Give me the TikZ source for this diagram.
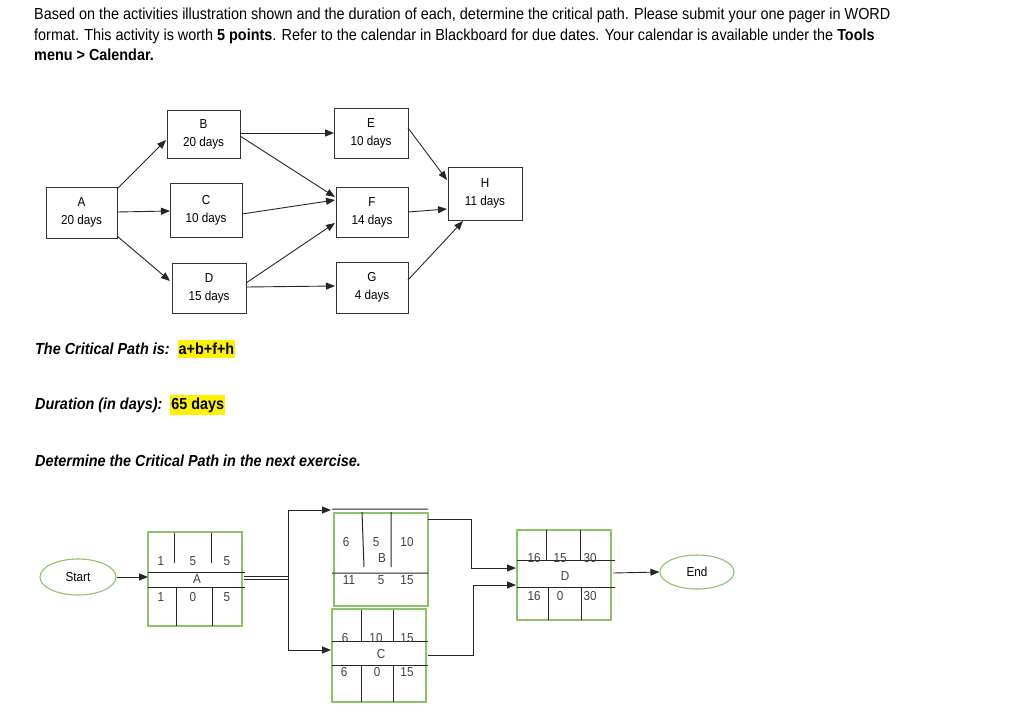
\documentclass[tikz,border=0pt]{standalone}
\usepackage{fontspec}
\setmainfont{Liberation Sans}[FakeStretch=0.9]
\usetikzlibrary{arrows.meta,shapes.geometric}
\definecolor{gr}{HTML}{8CC46A}
\begin{document}
\begin{tikzpicture}[x=1pt,y=-1pt,
  box/.style={draw=black!80,line width=0.9pt,align=center,font=\fontsize{13}{15}\selectfont,inner sep=0pt},
  arr/.style={-{Triangle[length=9pt,width=7pt]},line width=0.9pt,black!85},
  ln/.style={line width=1pt,black!85},
  gb/.style={draw=gr,line width=1.1pt},
  num/.style={font=\fontsize{13}{15}\selectfont,text=black!75,inner sep=0pt}]
\useasboundingbox (0,0) rectangle (1024,718);
\node[anchor=north west,align=left,inner sep=0pt,font=\fontsize{16}{20.5}\selectfont] (txt) at (34,8)
{Based on the activities illustration shown and the duration of each, determine the critical path. Please submit your one pager in WORD\\
format. This activity is worth \textbf{5 points}. Refer to the calendar in Blackboard for due dates. Your calendar is available under the \textbf{Tools}\\
\textbf{menu > Calendar.}};
% top network
\node[box,minimum width=71,minimum height=51] (A) at (81.5,212.5) {A\\[3pt]20 days};
\node[box,minimum width=73,minimum height=48] (B) at (203.5,134) {B\\[3pt]20 days};
\node[box,minimum width=72,minimum height=54] (C) at (206,210) {C\\[3pt]10 days};
\node[box,minimum width=74,minimum height=50] (D) at (209,288) {D\\[3pt]15 days};
\node[box,minimum width=74,minimum height=50] (E) at (371,133) {E\\[3pt]10 days};
\node[box,minimum width=72,minimum height=50] (F) at (372,212) {F\\[3pt]14 days};
\node[box,minimum width=72,minimum height=51] (G) at (372,287.5) {G\\[3pt]4 days};
\node[box,minimum width=74,minimum height=53] (H) at (485,193.5) {H\\[3pt]11 days};
\draw[arr] (117,189) -- (166,140);
\draw[arr] (117,212) -- (170,211);
\draw[arr] (117,236) -- (170,281);
\draw[arr] (240,133) -- (334,133);
\draw[arr] (240,136) -- (335,197);
\draw[arr] (242,214) -- (335,200);
\draw[arr] (246,283) -- (335,223);
\draw[arr] (246,287) -- (335,286);
\draw[arr] (408,128) -- (447,180);
\draw[arr] (408,212) -- (447,209);
\draw[arr] (408,280) -- (463,221);
\node[anchor=west,inner sep=0pt,font=\fontsize{16}{18}\selectfont\bfseries\itshape] (cp) at (35,349) {The Critical Path is: \,\textup{\colorbox{yellow}{\hspace{-2pt}a+b+f+h\hspace{-2pt}}}};
\node[anchor=west,inner sep=0pt,font=\fontsize{16}{18}\selectfont\bfseries\itshape] (du) at (35,405) {Duration (in days): \,\textup{\colorbox{yellow}{\hspace{-2pt}65 days\hspace{-2pt}}}};
\node[anchor=west,inner sep=0pt,font=\fontsize{16}{18}\selectfont\bfseries\itshape] (de) at (35,461) {Determine the Critical Path in the next exercise.};
% bottom network
\node[gb,ellipse,minimum width=76,minimum height=36,font=\fontsize{13}{15}\selectfont] (S) at (78,577) {Start};
\node[gb,ellipse,minimum width=74,minimum height=34,font=\fontsize{13}{15}\selectfont] (En) at (697,572) {End};
% A
\draw[gb] (148,532) rectangle (242,626);
\coordinate (Ain) at (148,577);
\draw[arr] (S.east) -- (Ain);
\draw[ln] (148,572)--(245,572) (148,587)--(245,587) (174,533)--(174,563) (211,533)--(211,563) (176,587)--(176,626) (212,587)--(212,626);
\node[num] (a1) at (161,561) {1}; \node[num] (a2) at (193,561) {5}; \node[num] (a3) at (227,561) {5};
\node[num] (an) at (197,579) {A};
\node[num] (a4) at (161,597) {1}; \node[num] (a5) at (193,597) {0}; \node[num] (a6) at (227,597) {5};
% B
\draw[gb] (334,513) rectangle (428,606);
\draw[ln] (332,509)--(428,509) (332,573)--(428,573) (362,512)--(364,567) (391,512)--(391,567);
\node[num] (b1) at (346,542) {6}; \node[num] (b2) at (376,542) {5}; \node[num] (b3) at (407,542) {10};
\node[num] (bn) at (382,558) {B};
\node[num] (b4) at (349,580) {11}; \node[num] (b5) at (381,580) {5}; \node[num] (b6) at (407,580) {15};
% C
\draw[gb] (332,609) rectangle (426,702);
\draw[ln] (332,641)--(428,641) (332,665)--(428,665) (361,610)--(361,642) (393,610)--(393,642) (361,665)--(361,702) (393,665)--(393,702);
\node[num] (c1) at (345,638) {6}; \node[num] (c2) at (376,638) {10}; \node[num] (c3) at (407,638) {15};
\node[num] (cn) at (381,654) {C};
\node[num] (c4) at (344,672) {6}; \node[num] (c5) at (377,672) {0}; \node[num] (c6) at (407,672) {15};
% D
\draw[gb] (517,530) rectangle (611,620);
\draw[ln] (517,560)--(615,560) (517,587)--(615,587) (546,530)--(546,560) (580,530)--(580,560) (548,587)--(548,620) (581,587)--(581,620);
\node[num] (d1) at (534,558) {16}; \node[num] (d2) at (560,558) {15}; \node[num] (d3) at (590,558) {30};
\node[num] (dn) at (565,576) {D};
\node[num] (d4) at (534,596) {16}; \node[num] (d5) at (560,596) {0}; \node[num] (d6) at (590,596) {30};
% connectors
\coordinate (Aout) at (244,578);
\coordinate (J) at (288,578);
\coordinate (Bin) at (331,510);
\coordinate (Cin) at (331,650);
\draw[line width=0.8pt,black!85,double=white,double distance=2pt] (Aout) -- (J);
\draw[arr] (J) |- (Bin);
\draw[arr] (J) |- (Cin);
\coordinate (Bout) at (428,519); \coordinate (Din1) at (516,568);
\coordinate (Cout) at (428,655); \coordinate (Din2) at (516,585);
\draw[arr] (Bout) -- (471,519) |- (Din1);
\draw[arr] (Cout) -- (473,655) |- (Din2);
\draw[arr] (613,573) -- (En.west);
\end{tikzpicture}
\end{document}
